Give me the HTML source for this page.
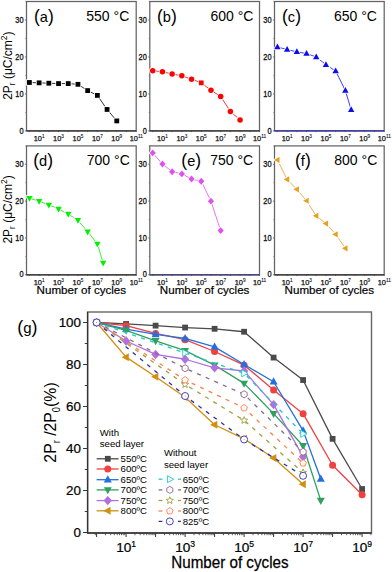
<!DOCTYPE html>
<html><head><meta charset="utf-8"><style>
html,body{margin:0;padding:0;background:#fff;width:392px;height:572px;overflow:hidden;}
svg{display:block;font-family:"Liberation Sans", sans-serif;}
</style></head><body>
<svg width="392" height="572" viewBox="0 0 392 572" font-family="'Liberation Sans', sans-serif"><line x1="24.90" y1="130.90" x2="26.50" y2="130.90" stroke="#555" stroke-width="0.8"/><line x1="25.50" y1="112.41" x2="26.50" y2="112.41" stroke="#555" stroke-width="0.8"/><line x1="24.90" y1="93.93" x2="26.50" y2="93.93" stroke="#555" stroke-width="0.8"/><line x1="25.50" y1="75.44" x2="26.50" y2="75.44" stroke="#555" stroke-width="0.8"/><line x1="24.90" y1="56.96" x2="26.50" y2="56.96" stroke="#555" stroke-width="0.8"/><line x1="25.50" y1="38.47" x2="26.50" y2="38.47" stroke="#555" stroke-width="0.8"/><line x1="24.90" y1="19.99" x2="26.50" y2="19.99" stroke="#555" stroke-width="0.8"/><line x1="25.50" y1="1.50" x2="26.50" y2="1.50" stroke="#555" stroke-width="0.8"/><line x1="29.41" y1="130.90" x2="29.41" y2="132.10" stroke="#444" stroke-width="0.8"/><line x1="39.12" y1="130.90" x2="39.12" y2="132.10" stroke="#444" stroke-width="0.8"/><line x1="48.83" y1="130.90" x2="48.83" y2="132.10" stroke="#444" stroke-width="0.8"/><line x1="58.54" y1="130.90" x2="58.54" y2="132.10" stroke="#444" stroke-width="0.8"/><line x1="68.24" y1="130.90" x2="68.24" y2="132.10" stroke="#444" stroke-width="0.8"/><line x1="77.95" y1="130.90" x2="77.95" y2="132.10" stroke="#444" stroke-width="0.8"/><line x1="87.66" y1="130.90" x2="87.66" y2="132.10" stroke="#444" stroke-width="0.8"/><line x1="97.37" y1="130.90" x2="97.37" y2="132.10" stroke="#444" stroke-width="0.8"/><line x1="107.08" y1="130.90" x2="107.08" y2="132.10" stroke="#444" stroke-width="0.8"/><line x1="116.78" y1="130.90" x2="116.78" y2="132.10" stroke="#444" stroke-width="0.8"/><line x1="126.49" y1="130.90" x2="126.49" y2="132.10" stroke="#444" stroke-width="0.8"/><line x1="136.20" y1="130.90" x2="136.20" y2="132.10" stroke="#444" stroke-width="0.8"/>
<rect x="26.50" y="1.50" width="109.70" height="129.40" fill="none" stroke="#646464" stroke-width="1.25"/>
<line x1="26.50" y1="130.90" x2="136.20" y2="130.90" stroke="#333" stroke-width="1.3"/>
<text transform="translate(23.50,133.50) scale(0.86,1)" font-size="8.6" text-anchor="end" fill="#111" stroke="#111" stroke-width="0.3">0</text>
<text transform="translate(23.50,96.53) scale(0.86,1)" font-size="8.6" text-anchor="end" fill="#111" stroke="#111" stroke-width="0.3">10</text>
<text transform="translate(23.50,59.56) scale(0.86,1)" font-size="8.6" text-anchor="end" fill="#111" stroke="#111" stroke-width="0.3">20</text>
<text transform="translate(23.50,22.59) scale(0.86,1)" font-size="8.6" text-anchor="end" fill="#111" stroke="#111" stroke-width="0.3">30</text>
<text x="39.12" y="141.00" font-size="7.4" text-anchor="middle" fill="#111" stroke="#111" stroke-width="0.25">10<tspan font-size="4.7" dy="-2.9" stroke-width="0.1">1</tspan></text>
<text x="58.54" y="141.00" font-size="7.4" text-anchor="middle" fill="#111" stroke="#111" stroke-width="0.25">10<tspan font-size="4.7" dy="-2.9" stroke-width="0.1">3</tspan></text>
<text x="77.95" y="141.00" font-size="7.4" text-anchor="middle" fill="#111" stroke="#111" stroke-width="0.25">10<tspan font-size="4.7" dy="-2.9" stroke-width="0.1">5</tspan></text>
<text x="97.37" y="141.00" font-size="7.4" text-anchor="middle" fill="#111" stroke="#111" stroke-width="0.25">10<tspan font-size="4.7" dy="-2.9" stroke-width="0.1">7</tspan></text>
<text x="116.78" y="141.00" font-size="7.4" text-anchor="middle" fill="#111" stroke="#111" stroke-width="0.25">10<tspan font-size="4.7" dy="-2.9" stroke-width="0.1">9</tspan></text>
<text x="136.20" y="141.00" font-size="7.4" text-anchor="middle" fill="#111" stroke="#111" stroke-width="0.25">10<tspan font-size="4.7" dy="-2.9" stroke-width="0.1">11</tspan></text>
<text x="34.00" y="21.70" font-size="14.6" fill="#000"><tspan font-size="17.5">(</tspan>a<tspan font-size="17.5">)</tspan></text>
<text x="86.30" y="20.70" font-size="14.0" text-anchor="start" fill="#000">550 °C</text>
<polyline points="29.41,82.47 39.12,82.84 48.83,83.21 58.54,83.58 68.24,83.58 77.95,84.32 87.66,90.60 97.37,95.41 107.08,109.46 116.78,120.92" fill="none" stroke="#000000" stroke-width="0.8" stroke-linejoin="round"/>
<rect x="27.01" y="80.07" width="4.80" height="4.80" fill="#000000" stroke="#fff" stroke-width="1.6" paint-order="stroke"/>
<rect x="36.72" y="80.44" width="4.80" height="4.80" fill="#000000" stroke="#fff" stroke-width="1.6" paint-order="stroke"/>
<rect x="46.43" y="80.81" width="4.80" height="4.80" fill="#000000" stroke="#fff" stroke-width="1.6" paint-order="stroke"/>
<rect x="56.14" y="81.18" width="4.80" height="4.80" fill="#000000" stroke="#fff" stroke-width="1.6" paint-order="stroke"/>
<rect x="65.84" y="81.18" width="4.80" height="4.80" fill="#000000" stroke="#fff" stroke-width="1.6" paint-order="stroke"/>
<rect x="75.55" y="81.92" width="4.80" height="4.80" fill="#000000" stroke="#fff" stroke-width="1.6" paint-order="stroke"/>
<rect x="85.26" y="88.20" width="4.80" height="4.80" fill="#000000" stroke="#fff" stroke-width="1.6" paint-order="stroke"/>
<rect x="94.97" y="93.01" width="4.80" height="4.80" fill="#000000" stroke="#fff" stroke-width="1.6" paint-order="stroke"/>
<rect x="104.68" y="107.06" width="4.80" height="4.80" fill="#000000" stroke="#fff" stroke-width="1.6" paint-order="stroke"/>
<rect x="114.38" y="118.52" width="4.80" height="4.80" fill="#000000" stroke="#fff" stroke-width="1.6" paint-order="stroke"/>
<line x1="148.20" y1="130.90" x2="149.80" y2="130.90" stroke="#555" stroke-width="0.8"/><line x1="148.80" y1="112.41" x2="149.80" y2="112.41" stroke="#555" stroke-width="0.8"/><line x1="148.20" y1="93.93" x2="149.80" y2="93.93" stroke="#555" stroke-width="0.8"/><line x1="148.80" y1="75.44" x2="149.80" y2="75.44" stroke="#555" stroke-width="0.8"/><line x1="148.20" y1="56.96" x2="149.80" y2="56.96" stroke="#555" stroke-width="0.8"/><line x1="148.80" y1="38.47" x2="149.80" y2="38.47" stroke="#555" stroke-width="0.8"/><line x1="148.20" y1="19.99" x2="149.80" y2="19.99" stroke="#555" stroke-width="0.8"/><line x1="148.80" y1="1.50" x2="149.80" y2="1.50" stroke="#555" stroke-width="0.8"/><line x1="152.71" y1="130.90" x2="152.71" y2="132.10" stroke="#444" stroke-width="0.8"/><line x1="162.42" y1="130.90" x2="162.42" y2="132.10" stroke="#444" stroke-width="0.8"/><line x1="172.13" y1="130.90" x2="172.13" y2="132.10" stroke="#444" stroke-width="0.8"/><line x1="181.84" y1="130.90" x2="181.84" y2="132.10" stroke="#444" stroke-width="0.8"/><line x1="191.54" y1="130.90" x2="191.54" y2="132.10" stroke="#444" stroke-width="0.8"/><line x1="201.25" y1="130.90" x2="201.25" y2="132.10" stroke="#444" stroke-width="0.8"/><line x1="210.96" y1="130.90" x2="210.96" y2="132.10" stroke="#444" stroke-width="0.8"/><line x1="220.67" y1="130.90" x2="220.67" y2="132.10" stroke="#444" stroke-width="0.8"/><line x1="230.38" y1="130.90" x2="230.38" y2="132.10" stroke="#444" stroke-width="0.8"/><line x1="240.08" y1="130.90" x2="240.08" y2="132.10" stroke="#444" stroke-width="0.8"/><line x1="249.79" y1="130.90" x2="249.79" y2="132.10" stroke="#444" stroke-width="0.8"/><line x1="259.50" y1="130.90" x2="259.50" y2="132.10" stroke="#444" stroke-width="0.8"/>
<rect x="149.80" y="1.50" width="109.70" height="129.40" fill="none" stroke="#646464" stroke-width="1.25"/>
<line x1="149.80" y1="130.90" x2="259.50" y2="130.90" stroke="#333" stroke-width="1.3"/>
<text transform="translate(146.80,133.50) scale(0.86,1)" font-size="8.6" text-anchor="end" fill="#111" stroke="#111" stroke-width="0.3">0</text>
<text transform="translate(146.80,96.53) scale(0.86,1)" font-size="8.6" text-anchor="end" fill="#111" stroke="#111" stroke-width="0.3">10</text>
<text transform="translate(146.80,59.56) scale(0.86,1)" font-size="8.6" text-anchor="end" fill="#111" stroke="#111" stroke-width="0.3">20</text>
<text transform="translate(146.80,22.59) scale(0.86,1)" font-size="8.6" text-anchor="end" fill="#111" stroke="#111" stroke-width="0.3">30</text>
<text x="162.42" y="141.00" font-size="7.4" text-anchor="middle" fill="#111" stroke="#111" stroke-width="0.25">10<tspan font-size="4.7" dy="-2.9" stroke-width="0.1">1</tspan></text>
<text x="181.84" y="141.00" font-size="7.4" text-anchor="middle" fill="#111" stroke="#111" stroke-width="0.25">10<tspan font-size="4.7" dy="-2.9" stroke-width="0.1">3</tspan></text>
<text x="201.25" y="141.00" font-size="7.4" text-anchor="middle" fill="#111" stroke="#111" stroke-width="0.25">10<tspan font-size="4.7" dy="-2.9" stroke-width="0.1">5</tspan></text>
<text x="220.67" y="141.00" font-size="7.4" text-anchor="middle" fill="#111" stroke="#111" stroke-width="0.25">10<tspan font-size="4.7" dy="-2.9" stroke-width="0.1">7</tspan></text>
<text x="240.08" y="141.00" font-size="7.4" text-anchor="middle" fill="#111" stroke="#111" stroke-width="0.25">10<tspan font-size="4.7" dy="-2.9" stroke-width="0.1">9</tspan></text>
<text x="259.50" y="141.00" font-size="7.4" text-anchor="middle" fill="#111" stroke="#111" stroke-width="0.25">10<tspan font-size="4.7" dy="-2.9" stroke-width="0.1">11</tspan></text>
<text x="157.00" y="21.70" font-size="14.6" fill="#000"><tspan font-size="17.5">(</tspan>b<tspan font-size="17.5">)</tspan></text>
<text x="210.40" y="20.70" font-size="14.0" text-anchor="start" fill="#000">600 °C</text>
<polyline points="152.71,70.64 162.42,71.75 172.13,73.96 181.84,75.81 191.54,79.14 201.25,82.84 210.96,90.23 220.67,96.52 230.38,111.49 240.08,119.92" fill="none" stroke="#ff0000" stroke-width="0.8" stroke-linejoin="round"/>
<circle cx="152.71" cy="70.64" r="2.75" fill="#ff0000" stroke="#fff" stroke-width="1.6" paint-order="stroke"/>
<circle cx="162.42" cy="71.75" r="2.75" fill="#ff0000" stroke="#fff" stroke-width="1.6" paint-order="stroke"/>
<circle cx="172.13" cy="73.96" r="2.75" fill="#ff0000" stroke="#fff" stroke-width="1.6" paint-order="stroke"/>
<circle cx="181.84" cy="75.81" r="2.75" fill="#ff0000" stroke="#fff" stroke-width="1.6" paint-order="stroke"/>
<circle cx="191.54" cy="79.14" r="2.75" fill="#ff0000" stroke="#fff" stroke-width="1.6" paint-order="stroke"/>
<rect x="198.85" y="80.44" width="4.80" height="4.80" fill="#ff0000" stroke="#fff" stroke-width="1.6" paint-order="stroke"/>
<circle cx="210.96" cy="90.23" r="2.75" fill="#ff0000" stroke="#fff" stroke-width="1.6" paint-order="stroke"/>
<circle cx="220.67" cy="96.52" r="2.75" fill="#ff0000" stroke="#fff" stroke-width="1.6" paint-order="stroke"/>
<circle cx="230.38" cy="111.49" r="2.75" fill="#ff0000" stroke="#fff" stroke-width="1.6" paint-order="stroke"/>
<circle cx="240.08" cy="119.92" r="2.75" fill="#ff0000" stroke="#fff" stroke-width="1.6" paint-order="stroke"/>
<line x1="272.90" y1="130.90" x2="274.50" y2="130.90" stroke="#555" stroke-width="0.8"/><line x1="273.50" y1="112.41" x2="274.50" y2="112.41" stroke="#555" stroke-width="0.8"/><line x1="272.90" y1="93.93" x2="274.50" y2="93.93" stroke="#555" stroke-width="0.8"/><line x1="273.50" y1="75.44" x2="274.50" y2="75.44" stroke="#555" stroke-width="0.8"/><line x1="272.90" y1="56.96" x2="274.50" y2="56.96" stroke="#555" stroke-width="0.8"/><line x1="273.50" y1="38.47" x2="274.50" y2="38.47" stroke="#555" stroke-width="0.8"/><line x1="272.90" y1="19.99" x2="274.50" y2="19.99" stroke="#555" stroke-width="0.8"/><line x1="273.50" y1="1.50" x2="274.50" y2="1.50" stroke="#555" stroke-width="0.8"/><line x1="277.41" y1="130.90" x2="277.41" y2="132.10" stroke="#444" stroke-width="0.8"/><line x1="287.12" y1="130.90" x2="287.12" y2="132.10" stroke="#444" stroke-width="0.8"/><line x1="296.83" y1="130.90" x2="296.83" y2="132.10" stroke="#444" stroke-width="0.8"/><line x1="306.54" y1="130.90" x2="306.54" y2="132.10" stroke="#444" stroke-width="0.8"/><line x1="316.24" y1="130.90" x2="316.24" y2="132.10" stroke="#444" stroke-width="0.8"/><line x1="325.95" y1="130.90" x2="325.95" y2="132.10" stroke="#444" stroke-width="0.8"/><line x1="335.66" y1="130.90" x2="335.66" y2="132.10" stroke="#444" stroke-width="0.8"/><line x1="345.37" y1="130.90" x2="345.37" y2="132.10" stroke="#444" stroke-width="0.8"/><line x1="355.08" y1="130.90" x2="355.08" y2="132.10" stroke="#444" stroke-width="0.8"/><line x1="364.78" y1="130.90" x2="364.78" y2="132.10" stroke="#444" stroke-width="0.8"/><line x1="374.49" y1="130.90" x2="374.49" y2="132.10" stroke="#444" stroke-width="0.8"/><line x1="384.20" y1="130.90" x2="384.20" y2="132.10" stroke="#444" stroke-width="0.8"/>
<rect x="274.50" y="1.50" width="109.70" height="129.40" fill="none" stroke="#646464" stroke-width="1.25"/>
<line x1="274.50" y1="130.90" x2="384.20" y2="130.90" stroke="#2828a8" stroke-width="1.3"/>
<text transform="translate(271.50,133.50) scale(0.86,1)" font-size="8.6" text-anchor="end" fill="#111" stroke="#111" stroke-width="0.3">0</text>
<text transform="translate(271.50,96.53) scale(0.86,1)" font-size="8.6" text-anchor="end" fill="#111" stroke="#111" stroke-width="0.3">10</text>
<text transform="translate(271.50,59.56) scale(0.86,1)" font-size="8.6" text-anchor="end" fill="#111" stroke="#111" stroke-width="0.3">20</text>
<text transform="translate(271.50,22.59) scale(0.86,1)" font-size="8.6" text-anchor="end" fill="#111" stroke="#111" stroke-width="0.3">30</text>
<text x="287.12" y="141.00" font-size="7.4" text-anchor="middle" fill="#111" stroke="#111" stroke-width="0.25">10<tspan font-size="4.7" dy="-2.9" stroke-width="0.1">1</tspan></text>
<text x="306.54" y="141.00" font-size="7.4" text-anchor="middle" fill="#111" stroke="#111" stroke-width="0.25">10<tspan font-size="4.7" dy="-2.9" stroke-width="0.1">3</tspan></text>
<text x="325.95" y="141.00" font-size="7.4" text-anchor="middle" fill="#111" stroke="#111" stroke-width="0.25">10<tspan font-size="4.7" dy="-2.9" stroke-width="0.1">5</tspan></text>
<text x="345.37" y="141.00" font-size="7.4" text-anchor="middle" fill="#111" stroke="#111" stroke-width="0.25">10<tspan font-size="4.7" dy="-2.9" stroke-width="0.1">7</tspan></text>
<text x="364.78" y="141.00" font-size="7.4" text-anchor="middle" fill="#111" stroke="#111" stroke-width="0.25">10<tspan font-size="4.7" dy="-2.9" stroke-width="0.1">9</tspan></text>
<text x="384.20" y="141.00" font-size="7.4" text-anchor="middle" fill="#111" stroke="#111" stroke-width="0.25">10<tspan font-size="4.7" dy="-2.9" stroke-width="0.1">11</tspan></text>
<text x="282.00" y="21.70" font-size="14.6" fill="#000"><tspan font-size="17.5">(</tspan>c<tspan font-size="17.5">)</tspan></text>
<text x="334.00" y="20.70" font-size="14.0" text-anchor="start" fill="#000">650 °C</text>
<polyline points="277.41,46.97 287.12,49.56 296.83,51.78 306.54,53.63 316.24,56.96 325.95,64.72 335.66,71.01 345.37,90.60 351.19,109.83" fill="none" stroke="#0c0cf0" stroke-width="0.8" stroke-linejoin="round"/>
<polygon points="277.41,43.40 280.61,49.16 274.21,49.16" fill="#0c0cf0" stroke="#fff" stroke-width="1.6" paint-order="stroke"/>
<polygon points="287.12,45.99 290.32,51.75 283.92,51.75" fill="#0c0cf0" stroke="#fff" stroke-width="1.6" paint-order="stroke"/>
<polygon points="296.83,48.21 300.03,53.97 293.63,53.97" fill="#0c0cf0" stroke="#fff" stroke-width="1.6" paint-order="stroke"/>
<polygon points="306.54,50.06 309.74,55.82 303.34,55.82" fill="#0c0cf0" stroke="#fff" stroke-width="1.6" paint-order="stroke"/>
<polygon points="316.24,53.39 319.44,59.15 313.04,59.15" fill="#0c0cf0" stroke="#fff" stroke-width="1.6" paint-order="stroke"/>
<polygon points="325.95,61.15 329.15,66.91 322.75,66.91" fill="#0c0cf0" stroke="#fff" stroke-width="1.6" paint-order="stroke"/>
<polygon points="335.66,67.44 338.86,73.20 332.46,73.20" fill="#0c0cf0" stroke="#fff" stroke-width="1.6" paint-order="stroke"/>
<polygon points="345.37,87.03 348.57,92.79 342.17,92.79" fill="#0c0cf0" stroke="#fff" stroke-width="1.6" paint-order="stroke"/>
<polygon points="351.19,106.26 354.39,112.02 347.99,112.02" fill="#0c0cf0" stroke="#fff" stroke-width="1.6" paint-order="stroke"/>
<line x1="24.90" y1="274.80" x2="26.50" y2="274.80" stroke="#555" stroke-width="0.8"/><line x1="25.50" y1="256.39" x2="26.50" y2="256.39" stroke="#555" stroke-width="0.8"/><line x1="24.90" y1="237.97" x2="26.50" y2="237.97" stroke="#555" stroke-width="0.8"/><line x1="25.50" y1="219.56" x2="26.50" y2="219.56" stroke="#555" stroke-width="0.8"/><line x1="24.90" y1="201.14" x2="26.50" y2="201.14" stroke="#555" stroke-width="0.8"/><line x1="25.50" y1="182.73" x2="26.50" y2="182.73" stroke="#555" stroke-width="0.8"/><line x1="24.90" y1="164.31" x2="26.50" y2="164.31" stroke="#555" stroke-width="0.8"/><line x1="25.50" y1="145.90" x2="26.50" y2="145.90" stroke="#555" stroke-width="0.8"/><line x1="29.41" y1="274.80" x2="29.41" y2="276.00" stroke="#444" stroke-width="0.8"/><line x1="39.12" y1="274.80" x2="39.12" y2="276.00" stroke="#444" stroke-width="0.8"/><line x1="48.83" y1="274.80" x2="48.83" y2="276.00" stroke="#444" stroke-width="0.8"/><line x1="58.54" y1="274.80" x2="58.54" y2="276.00" stroke="#444" stroke-width="0.8"/><line x1="68.24" y1="274.80" x2="68.24" y2="276.00" stroke="#444" stroke-width="0.8"/><line x1="77.95" y1="274.80" x2="77.95" y2="276.00" stroke="#444" stroke-width="0.8"/><line x1="87.66" y1="274.80" x2="87.66" y2="276.00" stroke="#444" stroke-width="0.8"/><line x1="97.37" y1="274.80" x2="97.37" y2="276.00" stroke="#444" stroke-width="0.8"/><line x1="107.08" y1="274.80" x2="107.08" y2="276.00" stroke="#444" stroke-width="0.8"/><line x1="116.78" y1="274.80" x2="116.78" y2="276.00" stroke="#444" stroke-width="0.8"/><line x1="126.49" y1="274.80" x2="126.49" y2="276.00" stroke="#444" stroke-width="0.8"/><line x1="136.20" y1="274.80" x2="136.20" y2="276.00" stroke="#444" stroke-width="0.8"/>
<rect x="26.50" y="145.90" width="109.70" height="128.90" fill="none" stroke="#646464" stroke-width="1.25"/>
<line x1="26.50" y1="274.80" x2="136.20" y2="274.80" stroke="#333" stroke-width="1.3"/>
<text transform="translate(23.50,277.40) scale(0.86,1)" font-size="8.6" text-anchor="end" fill="#111" stroke="#111" stroke-width="0.3">0</text>
<text transform="translate(23.50,240.57) scale(0.86,1)" font-size="8.6" text-anchor="end" fill="#111" stroke="#111" stroke-width="0.3">10</text>
<text transform="translate(23.50,203.74) scale(0.86,1)" font-size="8.6" text-anchor="end" fill="#111" stroke="#111" stroke-width="0.3">20</text>
<text transform="translate(23.50,166.91) scale(0.86,1)" font-size="8.6" text-anchor="end" fill="#111" stroke="#111" stroke-width="0.3">30</text>
<text x="39.12" y="284.90" font-size="7.4" text-anchor="middle" fill="#111" stroke="#111" stroke-width="0.25">10<tspan font-size="4.7" dy="-2.9" stroke-width="0.1">1</tspan></text>
<text x="58.54" y="284.90" font-size="7.4" text-anchor="middle" fill="#111" stroke="#111" stroke-width="0.25">10<tspan font-size="4.7" dy="-2.9" stroke-width="0.1">3</tspan></text>
<text x="77.95" y="284.90" font-size="7.4" text-anchor="middle" fill="#111" stroke="#111" stroke-width="0.25">10<tspan font-size="4.7" dy="-2.9" stroke-width="0.1">5</tspan></text>
<text x="97.37" y="284.90" font-size="7.4" text-anchor="middle" fill="#111" stroke="#111" stroke-width="0.25">10<tspan font-size="4.7" dy="-2.9" stroke-width="0.1">7</tspan></text>
<text x="116.78" y="284.90" font-size="7.4" text-anchor="middle" fill="#111" stroke="#111" stroke-width="0.25">10<tspan font-size="4.7" dy="-2.9" stroke-width="0.1">9</tspan></text>
<text x="136.20" y="284.90" font-size="7.4" text-anchor="middle" fill="#111" stroke="#111" stroke-width="0.25">10<tspan font-size="4.7" dy="-2.9" stroke-width="0.1">11</tspan></text>
<text x="33.20" y="166.10" font-size="14.6" fill="#000"><tspan font-size="17.5">(</tspan>d<tspan font-size="17.5">)</tspan></text>
<text x="86.80" y="165.10" font-size="14.0" text-anchor="start" fill="#000">700 °C</text>
<polyline points="29.41,198.20 39.12,201.14 48.83,204.83 58.54,208.88 68.24,214.03 77.95,220.29 87.66,231.71 97.37,243.86 103.19,263.01" fill="none" stroke="#00f000" stroke-width="0.8" stroke-linejoin="round"/>
<polygon points="29.41,201.77 32.61,196.01 26.21,196.01" fill="#00f000" stroke="#fff" stroke-width="1.6" paint-order="stroke"/>
<polygon points="39.12,204.71 42.32,198.95 35.92,198.95" fill="#00f000" stroke="#fff" stroke-width="1.6" paint-order="stroke"/>
<polygon points="48.83,208.40 52.03,202.64 45.63,202.64" fill="#00f000" stroke="#fff" stroke-width="1.6" paint-order="stroke"/>
<polygon points="58.54,212.45 61.74,206.69 55.34,206.69" fill="#00f000" stroke="#fff" stroke-width="1.6" paint-order="stroke"/>
<polygon points="68.24,217.60 71.44,211.84 65.04,211.84" fill="#00f000" stroke="#fff" stroke-width="1.6" paint-order="stroke"/>
<polygon points="77.95,223.86 81.15,218.10 74.75,218.10" fill="#00f000" stroke="#fff" stroke-width="1.6" paint-order="stroke"/>
<polygon points="87.66,235.28 90.86,229.52 84.46,229.52" fill="#00f000" stroke="#fff" stroke-width="1.6" paint-order="stroke"/>
<polygon points="97.37,247.44 100.57,241.68 94.17,241.68" fill="#00f000" stroke="#fff" stroke-width="1.6" paint-order="stroke"/>
<polygon points="103.19,266.59 106.39,260.83 99.99,260.83" fill="#00f000" stroke="#fff" stroke-width="1.6" paint-order="stroke"/>
<line x1="148.20" y1="274.80" x2="149.80" y2="274.80" stroke="#555" stroke-width="0.8"/><line x1="148.80" y1="256.39" x2="149.80" y2="256.39" stroke="#555" stroke-width="0.8"/><line x1="148.20" y1="237.97" x2="149.80" y2="237.97" stroke="#555" stroke-width="0.8"/><line x1="148.80" y1="219.56" x2="149.80" y2="219.56" stroke="#555" stroke-width="0.8"/><line x1="148.20" y1="201.14" x2="149.80" y2="201.14" stroke="#555" stroke-width="0.8"/><line x1="148.80" y1="182.73" x2="149.80" y2="182.73" stroke="#555" stroke-width="0.8"/><line x1="148.20" y1="164.31" x2="149.80" y2="164.31" stroke="#555" stroke-width="0.8"/><line x1="148.80" y1="145.90" x2="149.80" y2="145.90" stroke="#555" stroke-width="0.8"/><line x1="152.71" y1="274.80" x2="152.71" y2="276.00" stroke="#444" stroke-width="0.8"/><line x1="162.42" y1="274.80" x2="162.42" y2="276.00" stroke="#444" stroke-width="0.8"/><line x1="172.13" y1="274.80" x2="172.13" y2="276.00" stroke="#444" stroke-width="0.8"/><line x1="181.84" y1="274.80" x2="181.84" y2="276.00" stroke="#444" stroke-width="0.8"/><line x1="191.54" y1="274.80" x2="191.54" y2="276.00" stroke="#444" stroke-width="0.8"/><line x1="201.25" y1="274.80" x2="201.25" y2="276.00" stroke="#444" stroke-width="0.8"/><line x1="210.96" y1="274.80" x2="210.96" y2="276.00" stroke="#444" stroke-width="0.8"/><line x1="220.67" y1="274.80" x2="220.67" y2="276.00" stroke="#444" stroke-width="0.8"/><line x1="230.38" y1="274.80" x2="230.38" y2="276.00" stroke="#444" stroke-width="0.8"/><line x1="240.08" y1="274.80" x2="240.08" y2="276.00" stroke="#444" stroke-width="0.8"/><line x1="249.79" y1="274.80" x2="249.79" y2="276.00" stroke="#444" stroke-width="0.8"/><line x1="259.50" y1="274.80" x2="259.50" y2="276.00" stroke="#444" stroke-width="0.8"/>
<rect x="149.80" y="145.90" width="109.70" height="128.90" fill="none" stroke="#646464" stroke-width="1.25"/>
<line x1="149.80" y1="274.80" x2="259.50" y2="274.80" stroke="#383878" stroke-width="1.3"/>
<text transform="translate(146.80,277.40) scale(0.86,1)" font-size="8.6" text-anchor="end" fill="#111" stroke="#111" stroke-width="0.3">0</text>
<text transform="translate(146.80,240.57) scale(0.86,1)" font-size="8.6" text-anchor="end" fill="#111" stroke="#111" stroke-width="0.3">10</text>
<text transform="translate(146.80,203.74) scale(0.86,1)" font-size="8.6" text-anchor="end" fill="#111" stroke="#111" stroke-width="0.3">20</text>
<text transform="translate(146.80,166.91) scale(0.86,1)" font-size="8.6" text-anchor="end" fill="#111" stroke="#111" stroke-width="0.3">30</text>
<text x="162.42" y="284.90" font-size="7.4" text-anchor="middle" fill="#111" stroke="#111" stroke-width="0.25">10<tspan font-size="4.7" dy="-2.9" stroke-width="0.1">1</tspan></text>
<text x="181.84" y="284.90" font-size="7.4" text-anchor="middle" fill="#111" stroke="#111" stroke-width="0.25">10<tspan font-size="4.7" dy="-2.9" stroke-width="0.1">3</tspan></text>
<text x="201.25" y="284.90" font-size="7.4" text-anchor="middle" fill="#111" stroke="#111" stroke-width="0.25">10<tspan font-size="4.7" dy="-2.9" stroke-width="0.1">5</tspan></text>
<text x="220.67" y="284.90" font-size="7.4" text-anchor="middle" fill="#111" stroke="#111" stroke-width="0.25">10<tspan font-size="4.7" dy="-2.9" stroke-width="0.1">7</tspan></text>
<text x="240.08" y="284.90" font-size="7.4" text-anchor="middle" fill="#111" stroke="#111" stroke-width="0.25">10<tspan font-size="4.7" dy="-2.9" stroke-width="0.1">9</tspan></text>
<text x="259.50" y="284.90" font-size="7.4" text-anchor="middle" fill="#111" stroke="#111" stroke-width="0.25">10<tspan font-size="4.7" dy="-2.9" stroke-width="0.1">11</tspan></text>
<text x="181.30" y="166.10" font-size="14.6" fill="#000"><tspan font-size="17.5">(</tspan>e<tspan font-size="17.5">)</tspan></text>
<text x="210.20" y="165.10" font-size="14.0" text-anchor="start" fill="#000">750 °C</text>
<polyline points="152.71,152.90 162.42,163.95 172.13,171.68 181.84,173.89 191.54,179.05 201.25,181.26 210.96,201.14 220.67,230.61" fill="none" stroke="#e050f0" stroke-width="0.8" stroke-linejoin="round"/>
<polygon points="152.71,149.43 155.79,152.90 152.71,156.37 149.63,152.90" fill="#e050f0" stroke="#fff" stroke-width="1.6" paint-order="stroke"/>
<polygon points="162.42,160.47 165.50,163.95 162.42,167.42 159.34,163.95" fill="#e050f0" stroke="#fff" stroke-width="1.6" paint-order="stroke"/>
<polygon points="172.13,168.21 175.21,171.68 172.13,175.15 169.05,171.68" fill="#e050f0" stroke="#fff" stroke-width="1.6" paint-order="stroke"/>
<polygon points="181.84,170.42 184.92,173.89 181.84,177.36 178.76,173.89" fill="#e050f0" stroke="#fff" stroke-width="1.6" paint-order="stroke"/>
<polygon points="191.54,175.57 194.62,179.05 191.54,182.52 188.46,179.05" fill="#e050f0" stroke="#fff" stroke-width="1.6" paint-order="stroke"/>
<polygon points="201.25,177.78 204.33,181.26 201.25,184.73 198.17,181.26" fill="#e050f0" stroke="#fff" stroke-width="1.6" paint-order="stroke"/>
<polygon points="210.96,197.67 214.04,201.14 210.96,204.61 207.88,201.14" fill="#e050f0" stroke="#fff" stroke-width="1.6" paint-order="stroke"/>
<polygon points="220.67,227.13 223.75,230.61 220.67,234.08 217.59,230.61" fill="#e050f0" stroke="#fff" stroke-width="1.6" paint-order="stroke"/>
<line x1="272.90" y1="274.80" x2="274.50" y2="274.80" stroke="#555" stroke-width="0.8"/><line x1="273.50" y1="256.39" x2="274.50" y2="256.39" stroke="#555" stroke-width="0.8"/><line x1="272.90" y1="237.97" x2="274.50" y2="237.97" stroke="#555" stroke-width="0.8"/><line x1="273.50" y1="219.56" x2="274.50" y2="219.56" stroke="#555" stroke-width="0.8"/><line x1="272.90" y1="201.14" x2="274.50" y2="201.14" stroke="#555" stroke-width="0.8"/><line x1="273.50" y1="182.73" x2="274.50" y2="182.73" stroke="#555" stroke-width="0.8"/><line x1="272.90" y1="164.31" x2="274.50" y2="164.31" stroke="#555" stroke-width="0.8"/><line x1="273.50" y1="145.90" x2="274.50" y2="145.90" stroke="#555" stroke-width="0.8"/><line x1="277.41" y1="274.80" x2="277.41" y2="276.00" stroke="#444" stroke-width="0.8"/><line x1="287.12" y1="274.80" x2="287.12" y2="276.00" stroke="#444" stroke-width="0.8"/><line x1="296.83" y1="274.80" x2="296.83" y2="276.00" stroke="#444" stroke-width="0.8"/><line x1="306.54" y1="274.80" x2="306.54" y2="276.00" stroke="#444" stroke-width="0.8"/><line x1="316.24" y1="274.80" x2="316.24" y2="276.00" stroke="#444" stroke-width="0.8"/><line x1="325.95" y1="274.80" x2="325.95" y2="276.00" stroke="#444" stroke-width="0.8"/><line x1="335.66" y1="274.80" x2="335.66" y2="276.00" stroke="#444" stroke-width="0.8"/><line x1="345.37" y1="274.80" x2="345.37" y2="276.00" stroke="#444" stroke-width="0.8"/><line x1="355.08" y1="274.80" x2="355.08" y2="276.00" stroke="#444" stroke-width="0.8"/><line x1="364.78" y1="274.80" x2="364.78" y2="276.00" stroke="#444" stroke-width="0.8"/><line x1="374.49" y1="274.80" x2="374.49" y2="276.00" stroke="#444" stroke-width="0.8"/><line x1="384.20" y1="274.80" x2="384.20" y2="276.00" stroke="#444" stroke-width="0.8"/>
<rect x="274.50" y="145.90" width="109.70" height="128.90" fill="none" stroke="#646464" stroke-width="1.25"/>
<line x1="274.50" y1="274.80" x2="384.20" y2="274.80" stroke="#333" stroke-width="1.3"/>
<text transform="translate(271.50,277.40) scale(0.86,1)" font-size="8.6" text-anchor="end" fill="#111" stroke="#111" stroke-width="0.3">0</text>
<text transform="translate(271.50,240.57) scale(0.86,1)" font-size="8.6" text-anchor="end" fill="#111" stroke="#111" stroke-width="0.3">10</text>
<text transform="translate(271.50,203.74) scale(0.86,1)" font-size="8.6" text-anchor="end" fill="#111" stroke="#111" stroke-width="0.3">20</text>
<text transform="translate(271.50,166.91) scale(0.86,1)" font-size="8.6" text-anchor="end" fill="#111" stroke="#111" stroke-width="0.3">30</text>
<text x="287.12" y="284.90" font-size="7.4" text-anchor="middle" fill="#111" stroke="#111" stroke-width="0.25">10<tspan font-size="4.7" dy="-2.9" stroke-width="0.1">1</tspan></text>
<text x="306.54" y="284.90" font-size="7.4" text-anchor="middle" fill="#111" stroke="#111" stroke-width="0.25">10<tspan font-size="4.7" dy="-2.9" stroke-width="0.1">3</tspan></text>
<text x="325.95" y="284.90" font-size="7.4" text-anchor="middle" fill="#111" stroke="#111" stroke-width="0.25">10<tspan font-size="4.7" dy="-2.9" stroke-width="0.1">5</tspan></text>
<text x="345.37" y="284.90" font-size="7.4" text-anchor="middle" fill="#111" stroke="#111" stroke-width="0.25">10<tspan font-size="4.7" dy="-2.9" stroke-width="0.1">7</tspan></text>
<text x="364.78" y="284.90" font-size="7.4" text-anchor="middle" fill="#111" stroke="#111" stroke-width="0.25">10<tspan font-size="4.7" dy="-2.9" stroke-width="0.1">9</tspan></text>
<text x="384.20" y="284.90" font-size="7.4" text-anchor="middle" fill="#111" stroke="#111" stroke-width="0.25">10<tspan font-size="4.7" dy="-2.9" stroke-width="0.1">11</tspan></text>
<text x="295.00" y="166.10" font-size="14.6" fill="#000"><tspan font-size="17.5">(</tspan>f<tspan font-size="17.5">)</tspan></text>
<text x="334.30" y="165.10" font-size="14.0" text-anchor="start" fill="#000">800 °C</text>
<polyline points="277.41,159.89 287.12,179.41 296.83,189.36 306.54,200.77 316.24,215.87 325.95,223.61 335.66,234.29 345.37,248.28" fill="none" stroke="#e6a020" stroke-width="0.8" stroke-linejoin="round"/>
<polygon points="273.95,159.89 279.53,156.79 279.53,162.99" fill="#e6a020" stroke="#fff" stroke-width="1.6" paint-order="stroke"/>
<polygon points="283.66,179.41 289.24,176.31 289.24,182.51" fill="#e6a020" stroke="#fff" stroke-width="1.6" paint-order="stroke"/>
<polygon points="293.37,189.36 298.95,186.26 298.95,192.46" fill="#e6a020" stroke="#fff" stroke-width="1.6" paint-order="stroke"/>
<polygon points="303.08,200.77 308.66,197.67 308.66,203.87" fill="#e6a020" stroke="#fff" stroke-width="1.6" paint-order="stroke"/>
<polygon points="312.78,215.87 318.36,212.77 318.36,218.97" fill="#e6a020" stroke="#fff" stroke-width="1.6" paint-order="stroke"/>
<polygon points="322.49,223.61 328.07,220.51 328.07,226.71" fill="#e6a020" stroke="#fff" stroke-width="1.6" paint-order="stroke"/>
<polygon points="332.20,234.29 337.78,231.19 337.78,237.39" fill="#e6a020" stroke="#fff" stroke-width="1.6" paint-order="stroke"/>
<polygon points="341.91,248.28 347.49,245.18 347.49,251.38" fill="#e6a020" stroke="#fff" stroke-width="1.6" paint-order="stroke"/>
<text transform="translate(11.9,65.60) rotate(-90)" font-size="12" text-anchor="middle" fill="#000">2P<tspan font-size="8.2" dy="2.6">r</tspan><tspan dy="-2.6"> (μC/cm</tspan><tspan font-size="8.6" dy="-5.2">2</tspan><tspan dy="5.2">)</tspan></text>
<text transform="translate(11.9,209.40) rotate(-90)" font-size="12" text-anchor="middle" fill="#000">2P<tspan font-size="8.2" dy="2.6">r</tspan><tspan dy="-2.6"> (μC/cm</tspan><tspan font-size="8.6" dy="-5.2">2</tspan><tspan dy="5.2">)</tspan></text>
<text x="81.35" y="294.40" font-size="11.6" text-anchor="middle" fill="#000" stroke="#000" stroke-width="0.2">Number of cycles</text>
<text x="204.65" y="294.40" font-size="11.6" text-anchor="middle" fill="#000" stroke="#000" stroke-width="0.2">Number of cycles</text>
<text x="329.35" y="294.40" font-size="11.6" text-anchor="middle" fill="#000" stroke="#000" stroke-width="0.2">Number of cycles</text>
<line x1="83.10" y1="532.50" x2="87.60" y2="532.50" stroke="#333" stroke-width="1"/><line x1="84.80" y1="511.50" x2="87.60" y2="511.50" stroke="#333" stroke-width="1"/><line x1="83.10" y1="490.50" x2="87.60" y2="490.50" stroke="#333" stroke-width="1"/><line x1="84.80" y1="469.50" x2="87.60" y2="469.50" stroke="#333" stroke-width="1"/><line x1="83.10" y1="448.50" x2="87.60" y2="448.50" stroke="#333" stroke-width="1"/><line x1="84.80" y1="427.50" x2="87.60" y2="427.50" stroke="#333" stroke-width="1"/><line x1="83.10" y1="406.50" x2="87.60" y2="406.50" stroke="#333" stroke-width="1"/><line x1="84.80" y1="385.50" x2="87.60" y2="385.50" stroke="#333" stroke-width="1"/><line x1="83.10" y1="364.50" x2="87.60" y2="364.50" stroke="#333" stroke-width="1"/><line x1="84.80" y1="343.50" x2="87.60" y2="343.50" stroke="#333" stroke-width="1"/><line x1="83.10" y1="322.50" x2="87.60" y2="322.50" stroke="#333" stroke-width="1"/><line x1="96.60" y1="533.00" x2="96.60" y2="537.00" stroke="#333" stroke-width="1"/><line x1="105.48" y1="533.00" x2="105.48" y2="535.20" stroke="#333" stroke-width="0.8"/><line x1="110.68" y1="533.00" x2="110.68" y2="535.20" stroke="#333" stroke-width="0.8"/><line x1="114.36" y1="533.00" x2="114.36" y2="535.20" stroke="#333" stroke-width="0.8"/><line x1="117.22" y1="533.00" x2="117.22" y2="535.20" stroke="#333" stroke-width="0.8"/><line x1="119.56" y1="533.00" x2="119.56" y2="535.20" stroke="#333" stroke-width="0.8"/><line x1="121.53" y1="533.00" x2="121.53" y2="535.20" stroke="#333" stroke-width="0.8"/><line x1="123.24" y1="533.00" x2="123.24" y2="535.20" stroke="#333" stroke-width="0.8"/><line x1="124.75" y1="533.00" x2="124.75" y2="535.20" stroke="#333" stroke-width="0.8"/><line x1="126.10" y1="533.00" x2="126.10" y2="537.00" stroke="#333" stroke-width="1"/><line x1="134.98" y1="533.00" x2="134.98" y2="535.20" stroke="#333" stroke-width="0.8"/><line x1="140.18" y1="533.00" x2="140.18" y2="535.20" stroke="#333" stroke-width="0.8"/><line x1="143.86" y1="533.00" x2="143.86" y2="535.20" stroke="#333" stroke-width="0.8"/><line x1="146.72" y1="533.00" x2="146.72" y2="535.20" stroke="#333" stroke-width="0.8"/><line x1="149.06" y1="533.00" x2="149.06" y2="535.20" stroke="#333" stroke-width="0.8"/><line x1="151.03" y1="533.00" x2="151.03" y2="535.20" stroke="#333" stroke-width="0.8"/><line x1="152.74" y1="533.00" x2="152.74" y2="535.20" stroke="#333" stroke-width="0.8"/><line x1="154.25" y1="533.00" x2="154.25" y2="535.20" stroke="#333" stroke-width="0.8"/><line x1="155.60" y1="533.00" x2="155.60" y2="537.00" stroke="#333" stroke-width="1"/><line x1="164.48" y1="533.00" x2="164.48" y2="535.20" stroke="#333" stroke-width="0.8"/><line x1="169.68" y1="533.00" x2="169.68" y2="535.20" stroke="#333" stroke-width="0.8"/><line x1="173.36" y1="533.00" x2="173.36" y2="535.20" stroke="#333" stroke-width="0.8"/><line x1="176.22" y1="533.00" x2="176.22" y2="535.20" stroke="#333" stroke-width="0.8"/><line x1="178.56" y1="533.00" x2="178.56" y2="535.20" stroke="#333" stroke-width="0.8"/><line x1="180.53" y1="533.00" x2="180.53" y2="535.20" stroke="#333" stroke-width="0.8"/><line x1="182.24" y1="533.00" x2="182.24" y2="535.20" stroke="#333" stroke-width="0.8"/><line x1="183.75" y1="533.00" x2="183.75" y2="535.20" stroke="#333" stroke-width="0.8"/><line x1="185.10" y1="533.00" x2="185.10" y2="537.00" stroke="#333" stroke-width="1"/><line x1="193.98" y1="533.00" x2="193.98" y2="535.20" stroke="#333" stroke-width="0.8"/><line x1="199.18" y1="533.00" x2="199.18" y2="535.20" stroke="#333" stroke-width="0.8"/><line x1="202.86" y1="533.00" x2="202.86" y2="535.20" stroke="#333" stroke-width="0.8"/><line x1="205.72" y1="533.00" x2="205.72" y2="535.20" stroke="#333" stroke-width="0.8"/><line x1="208.06" y1="533.00" x2="208.06" y2="535.20" stroke="#333" stroke-width="0.8"/><line x1="210.03" y1="533.00" x2="210.03" y2="535.20" stroke="#333" stroke-width="0.8"/><line x1="211.74" y1="533.00" x2="211.74" y2="535.20" stroke="#333" stroke-width="0.8"/><line x1="213.25" y1="533.00" x2="213.25" y2="535.20" stroke="#333" stroke-width="0.8"/><line x1="214.60" y1="533.00" x2="214.60" y2="537.00" stroke="#333" stroke-width="1"/><line x1="223.48" y1="533.00" x2="223.48" y2="535.20" stroke="#333" stroke-width="0.8"/><line x1="228.68" y1="533.00" x2="228.68" y2="535.20" stroke="#333" stroke-width="0.8"/><line x1="232.36" y1="533.00" x2="232.36" y2="535.20" stroke="#333" stroke-width="0.8"/><line x1="235.22" y1="533.00" x2="235.22" y2="535.20" stroke="#333" stroke-width="0.8"/><line x1="237.56" y1="533.00" x2="237.56" y2="535.20" stroke="#333" stroke-width="0.8"/><line x1="239.53" y1="533.00" x2="239.53" y2="535.20" stroke="#333" stroke-width="0.8"/><line x1="241.24" y1="533.00" x2="241.24" y2="535.20" stroke="#333" stroke-width="0.8"/><line x1="242.75" y1="533.00" x2="242.75" y2="535.20" stroke="#333" stroke-width="0.8"/><line x1="244.10" y1="533.00" x2="244.10" y2="537.00" stroke="#333" stroke-width="1"/><line x1="252.98" y1="533.00" x2="252.98" y2="535.20" stroke="#333" stroke-width="0.8"/><line x1="258.18" y1="533.00" x2="258.18" y2="535.20" stroke="#333" stroke-width="0.8"/><line x1="261.86" y1="533.00" x2="261.86" y2="535.20" stroke="#333" stroke-width="0.8"/><line x1="264.72" y1="533.00" x2="264.72" y2="535.20" stroke="#333" stroke-width="0.8"/><line x1="267.06" y1="533.00" x2="267.06" y2="535.20" stroke="#333" stroke-width="0.8"/><line x1="269.03" y1="533.00" x2="269.03" y2="535.20" stroke="#333" stroke-width="0.8"/><line x1="270.74" y1="533.00" x2="270.74" y2="535.20" stroke="#333" stroke-width="0.8"/><line x1="272.25" y1="533.00" x2="272.25" y2="535.20" stroke="#333" stroke-width="0.8"/><line x1="273.60" y1="533.00" x2="273.60" y2="537.00" stroke="#333" stroke-width="1"/><line x1="282.48" y1="533.00" x2="282.48" y2="535.20" stroke="#333" stroke-width="0.8"/><line x1="287.68" y1="533.00" x2="287.68" y2="535.20" stroke="#333" stroke-width="0.8"/><line x1="291.36" y1="533.00" x2="291.36" y2="535.20" stroke="#333" stroke-width="0.8"/><line x1="294.22" y1="533.00" x2="294.22" y2="535.20" stroke="#333" stroke-width="0.8"/><line x1="296.56" y1="533.00" x2="296.56" y2="535.20" stroke="#333" stroke-width="0.8"/><line x1="298.53" y1="533.00" x2="298.53" y2="535.20" stroke="#333" stroke-width="0.8"/><line x1="300.24" y1="533.00" x2="300.24" y2="535.20" stroke="#333" stroke-width="0.8"/><line x1="301.75" y1="533.00" x2="301.75" y2="535.20" stroke="#333" stroke-width="0.8"/><line x1="303.10" y1="533.00" x2="303.10" y2="537.00" stroke="#333" stroke-width="1"/><line x1="311.98" y1="533.00" x2="311.98" y2="535.20" stroke="#333" stroke-width="0.8"/><line x1="317.18" y1="533.00" x2="317.18" y2="535.20" stroke="#333" stroke-width="0.8"/><line x1="320.86" y1="533.00" x2="320.86" y2="535.20" stroke="#333" stroke-width="0.8"/><line x1="323.72" y1="533.00" x2="323.72" y2="535.20" stroke="#333" stroke-width="0.8"/><line x1="326.06" y1="533.00" x2="326.06" y2="535.20" stroke="#333" stroke-width="0.8"/><line x1="328.03" y1="533.00" x2="328.03" y2="535.20" stroke="#333" stroke-width="0.8"/><line x1="329.74" y1="533.00" x2="329.74" y2="535.20" stroke="#333" stroke-width="0.8"/><line x1="331.25" y1="533.00" x2="331.25" y2="535.20" stroke="#333" stroke-width="0.8"/><line x1="332.60" y1="533.00" x2="332.60" y2="537.00" stroke="#333" stroke-width="1"/><line x1="341.48" y1="533.00" x2="341.48" y2="535.20" stroke="#333" stroke-width="0.8"/><line x1="346.68" y1="533.00" x2="346.68" y2="535.20" stroke="#333" stroke-width="0.8"/><line x1="350.36" y1="533.00" x2="350.36" y2="535.20" stroke="#333" stroke-width="0.8"/><line x1="353.22" y1="533.00" x2="353.22" y2="535.20" stroke="#333" stroke-width="0.8"/><line x1="355.56" y1="533.00" x2="355.56" y2="535.20" stroke="#333" stroke-width="0.8"/><line x1="357.53" y1="533.00" x2="357.53" y2="535.20" stroke="#333" stroke-width="0.8"/><line x1="359.24" y1="533.00" x2="359.24" y2="535.20" stroke="#333" stroke-width="0.8"/><line x1="360.75" y1="533.00" x2="360.75" y2="535.20" stroke="#333" stroke-width="0.8"/><line x1="362.10" y1="533.00" x2="362.10" y2="537.00" stroke="#333" stroke-width="1"/><line x1="370.98" y1="533.00" x2="370.98" y2="535.20" stroke="#333" stroke-width="0.8"/><line x1="95.25" y1="533.00" x2="95.25" y2="535.20" stroke="#333" stroke-width="0.8"/>
<rect x="87.60" y="312.00" width="283.90" height="221.00" fill="none" stroke="#666" stroke-width="1.4"/>
<polyline points="87.60,312.00 87.60,533.00 371.50,533.00" fill="none" stroke="#333" stroke-width="1.3"/>
<text x="81.00" y="537.30" font-size="13.4" text-anchor="end" fill="#000" stroke="#000" stroke-width="0.2">0</text>
<text x="81.00" y="495.30" font-size="13.4" text-anchor="end" fill="#000" stroke="#000" stroke-width="0.2">20</text>
<text x="81.00" y="453.30" font-size="13.4" text-anchor="end" fill="#000" stroke="#000" stroke-width="0.2">40</text>
<text x="81.00" y="411.30" font-size="13.4" text-anchor="end" fill="#000" stroke="#000" stroke-width="0.2">60</text>
<text x="81.00" y="369.30" font-size="13.4" text-anchor="end" fill="#000" stroke="#000" stroke-width="0.2">80</text>
<text x="81.00" y="327.30" font-size="13.4" text-anchor="end" fill="#000" stroke="#000" stroke-width="0.2">100</text>
<text x="126.10" y="551.80" font-size="13.6" text-anchor="middle" fill="#000" stroke="#000" stroke-width="0.2">10<tspan font-size="8.6" dy="-5.2">1</tspan></text>
<text x="185.10" y="551.80" font-size="13.6" text-anchor="middle" fill="#000" stroke="#000" stroke-width="0.2">10<tspan font-size="8.6" dy="-5.2">3</tspan></text>
<text x="244.10" y="551.80" font-size="13.6" text-anchor="middle" fill="#000" stroke="#000" stroke-width="0.2">10<tspan font-size="8.6" dy="-5.2">5</tspan></text>
<text x="303.10" y="551.80" font-size="13.6" text-anchor="middle" fill="#000" stroke="#000" stroke-width="0.2">10<tspan font-size="8.6" dy="-5.2">7</tspan></text>
<text x="362.10" y="551.80" font-size="13.6" text-anchor="middle" fill="#000" stroke="#000" stroke-width="0.2">10<tspan font-size="8.6" dy="-5.2">9</tspan></text>
<text transform="translate(229.9,567.6) scale(0.95,1)" x="0" y="0" font-size="16" text-anchor="middle" fill="#000" stroke="#000" stroke-width="0.25">Number of cycles</text>
<text x="17.2" y="332.6" font-size="15" fill="#000"><tspan font-size="18">(</tspan>g<tspan font-size="18">)</tspan></text>
<text transform="translate(56.3,422.5) rotate(-90) scale(0.94,1)" font-size="16.8" text-anchor="middle" fill="#000">2P<tspan font-size="10" dy="4">r</tspan><tspan dy="-4"> /2P</tspan><tspan font-size="10" dy="4">0</tspan><tspan dy="-4">(%)</tspan></text>
<polyline points="96.60,322.50 126.10,323.97 155.60,325.65 185.10,327.54 214.60,328.80 244.10,331.74 273.60,357.57 303.10,380.04 332.60,438.84 362.10,489.03" fill="none" stroke="#4a4a4a" stroke-width="1.3" stroke-linejoin="round"/>
<rect x="93.70" y="319.60" width="5.80" height="5.80" fill="#4a4a4a"/>
<rect x="123.20" y="321.07" width="5.80" height="5.80" fill="#4a4a4a"/>
<rect x="152.70" y="322.75" width="5.80" height="5.80" fill="#4a4a4a"/>
<rect x="182.20" y="324.64" width="5.80" height="5.80" fill="#4a4a4a"/>
<rect x="211.70" y="325.90" width="5.80" height="5.80" fill="#4a4a4a"/>
<rect x="241.20" y="328.84" width="5.80" height="5.80" fill="#4a4a4a"/>
<rect x="270.70" y="354.67" width="5.80" height="5.80" fill="#4a4a4a"/>
<rect x="300.20" y="377.14" width="5.80" height="5.80" fill="#4a4a4a"/>
<rect x="329.70" y="435.94" width="5.80" height="5.80" fill="#4a4a4a"/>
<rect x="359.20" y="486.13" width="5.80" height="5.80" fill="#4a4a4a"/>
<polyline points="96.60,322.50 126.10,325.65 155.60,333.42 185.10,339.72 214.60,351.48 244.10,365.13 273.60,389.91 303.10,413.64 332.60,465.30 362.10,494.70" fill="none" stroke="#f04040" stroke-width="1.3" stroke-linejoin="round"/>
<circle cx="96.60" cy="322.50" r="3.50" fill="#f04040"/>
<circle cx="126.10" cy="325.65" r="3.50" fill="#f04040"/>
<circle cx="155.60" cy="333.42" r="3.50" fill="#f04040"/>
<circle cx="185.10" cy="339.72" r="3.50" fill="#f04040"/>
<circle cx="214.60" cy="351.48" r="3.50" fill="#f04040"/>
<circle cx="244.10" cy="365.13" r="3.50" fill="#f04040"/>
<circle cx="273.60" cy="389.91" r="3.50" fill="#f04040"/>
<circle cx="303.10" cy="413.64" r="3.50" fill="#f04040"/>
<circle cx="332.60" cy="465.30" r="3.50" fill="#f04040"/>
<circle cx="362.10" cy="494.70" r="3.50" fill="#f04040"/>
<polyline points="96.60,322.50 126.10,329.22 155.60,334.47 185.10,338.46 214.60,346.86 244.10,364.50 273.60,381.72 303.10,430.65 320.80,478.95" fill="none" stroke="#2070e0" stroke-width="1.3" stroke-linejoin="round"/>
<polygon points="96.60,318.04 100.60,325.24 92.60,325.24" fill="#2070e0" stroke="none" stroke-width="0"/>
<polygon points="126.10,324.76 130.10,331.96 122.10,331.96" fill="#2070e0" stroke="none" stroke-width="0"/>
<polygon points="155.60,330.01 159.60,337.21 151.60,337.21" fill="#2070e0" stroke="none" stroke-width="0"/>
<polygon points="185.10,334.00 189.10,341.20 181.10,341.20" fill="#2070e0" stroke="none" stroke-width="0"/>
<polygon points="214.60,342.40 218.60,349.60 210.60,349.60" fill="#2070e0" stroke="none" stroke-width="0"/>
<polygon points="244.10,360.04 248.10,367.24 240.10,367.24" fill="#2070e0" stroke="none" stroke-width="0"/>
<polygon points="273.60,377.26 277.60,384.46 269.60,384.46" fill="#2070e0" stroke="none" stroke-width="0"/>
<polygon points="303.10,426.19 307.10,433.39 299.10,433.39" fill="#2070e0" stroke="none" stroke-width="0"/>
<polygon points="320.80,474.49 324.80,481.69 316.80,481.69" fill="#2070e0" stroke="none" stroke-width="0"/>
<polyline points="96.60,322.50 126.10,330.27 155.60,340.77 185.10,350.64 214.60,365.13 244.10,383.40 273.60,413.64 303.10,445.77 320.80,500.58" fill="none" stroke="#30a060" stroke-width="1.3" stroke-linejoin="round"/>
<polygon points="96.60,326.96 100.60,319.76 92.60,319.76" fill="#30a060" stroke="none" stroke-width="0"/>
<polygon points="126.10,334.73 130.10,327.53 122.10,327.53" fill="#30a060" stroke="none" stroke-width="0"/>
<polygon points="155.60,345.23 159.60,338.03 151.60,338.03" fill="#30a060" stroke="none" stroke-width="0"/>
<polygon points="185.10,355.10 189.10,347.90 181.10,347.90" fill="#30a060" stroke="none" stroke-width="0"/>
<polygon points="214.60,369.59 218.60,362.39 210.60,362.39" fill="#30a060" stroke="none" stroke-width="0"/>
<polygon points="244.10,387.86 248.10,380.66 240.10,380.66" fill="#30a060" stroke="none" stroke-width="0"/>
<polygon points="273.60,418.10 277.60,410.90 269.60,410.90" fill="#30a060" stroke="none" stroke-width="0"/>
<polygon points="303.10,450.23 307.10,443.03 299.10,443.03" fill="#30a060" stroke="none" stroke-width="0"/>
<polygon points="320.80,505.04 324.80,497.84 316.80,497.84" fill="#30a060" stroke="none" stroke-width="0"/>
<polyline points="96.60,322.50 126.10,340.98 155.60,354.42 185.10,359.25 214.60,367.86 244.10,371.01 273.60,404.61 303.10,456.69" fill="none" stroke="#b070e0" stroke-width="1.3" stroke-linejoin="round"/>
<polygon points="96.60,317.79 100.78,322.50 96.60,327.21 92.42,322.50" fill="#b070e0" stroke="none" stroke-width="0"/>
<polygon points="126.10,336.27 130.28,340.98 126.10,345.69 121.92,340.98" fill="#b070e0" stroke="none" stroke-width="0"/>
<polygon points="155.60,349.71 159.78,354.42 155.60,359.13 151.42,354.42" fill="#b070e0" stroke="none" stroke-width="0"/>
<polygon points="185.10,354.54 189.28,359.25 185.10,363.96 180.92,359.25" fill="#b070e0" stroke="none" stroke-width="0"/>
<polygon points="214.60,363.15 218.78,367.86 214.60,372.57 210.42,367.86" fill="#b070e0" stroke="none" stroke-width="0"/>
<polygon points="244.10,366.30 248.28,371.01 244.10,375.72 239.92,371.01" fill="#b070e0" stroke="none" stroke-width="0"/>
<polygon points="273.60,399.90 277.78,404.61 273.60,409.32 269.42,404.61" fill="#b070e0" stroke="none" stroke-width="0"/>
<polygon points="303.10,451.98 307.28,456.69 303.10,461.40 298.92,456.69" fill="#b070e0" stroke="none" stroke-width="0"/>
<polyline points="96.60,322.50 126.10,357.15 155.60,376.68 185.10,397.26 214.60,424.77 244.10,438.84 273.60,457.95 303.10,484.20" fill="none" stroke="#d09010" stroke-width="1.3" stroke-linejoin="round"/>
<polygon points="92.14,322.50 99.34,318.50 99.34,326.50" fill="#d09010" stroke="none" stroke-width="0"/>
<polygon points="121.64,357.15 128.84,353.15 128.84,361.15" fill="#d09010" stroke="none" stroke-width="0"/>
<polygon points="151.14,376.68 158.34,372.68 158.34,380.68" fill="#d09010" stroke="none" stroke-width="0"/>
<polygon points="180.64,397.26 187.84,393.26 187.84,401.26" fill="#d09010" stroke="none" stroke-width="0"/>
<polygon points="210.14,424.77 217.34,420.77 217.34,428.77" fill="#d09010" stroke="none" stroke-width="0"/>
<polygon points="239.64,438.84 246.84,434.84 246.84,442.84" fill="#d09010" stroke="none" stroke-width="0"/>
<polygon points="269.14,457.95 276.34,453.95 276.34,461.95" fill="#d09010" stroke="none" stroke-width="0"/>
<polygon points="298.64,484.20 305.84,480.20 305.84,488.20" fill="#d09010" stroke="none" stroke-width="0"/>
<polyline points="96.60,322.50 185.10,352.95 244.10,373.32 303.10,433.80" fill="none" stroke="#20c8c8" stroke-width="1.3" stroke-dasharray="4 5.4" stroke-linejoin="round"/>
<polygon points="100.51,322.50 94.21,319.00 94.21,326.00" fill="white" stroke="#20c8c8" stroke-width="0.9"/><circle cx="96.60" cy="322.50" r="0.4" fill="#20c8c8"/>
<polygon points="189.01,352.95 182.71,349.45 182.71,356.45" fill="white" stroke="#20c8c8" stroke-width="0.9"/><circle cx="185.10" cy="352.95" r="0.4" fill="#20c8c8"/>
<polygon points="248.01,373.32 241.71,369.82 241.71,376.82" fill="white" stroke="#20c8c8" stroke-width="0.9"/><circle cx="244.10" cy="373.32" r="0.4" fill="#20c8c8"/>
<polygon points="307.01,433.80 300.71,430.30 300.71,437.30" fill="white" stroke="#20c8c8" stroke-width="0.9"/><circle cx="303.10" cy="433.80" r="0.4" fill="#20c8c8"/>
<polyline points="96.60,322.50 185.10,368.28 244.10,394.32 303.10,451.86" fill="none" stroke="#8a6a80" stroke-width="1.3" stroke-dasharray="4 5.4" stroke-linejoin="round"/>
<polygon points="96.60,326.00 93.57,324.25 93.57,320.75 96.60,319.00 99.63,320.75 99.63,324.25" fill="white" stroke="#8a6a80" stroke-width="0.9"/><circle cx="96.60" cy="322.50" r="0.4" fill="#8a6a80"/>
<polygon points="185.10,371.78 182.07,370.03 182.07,366.53 185.10,364.78 188.13,366.53 188.13,370.03" fill="white" stroke="#8a6a80" stroke-width="0.9"/><circle cx="185.10" cy="368.28" r="0.4" fill="#8a6a80"/>
<polygon points="244.10,397.82 241.07,396.07 241.07,392.57 244.10,390.82 247.13,392.57 247.13,396.07" fill="white" stroke="#8a6a80" stroke-width="0.9"/><circle cx="244.10" cy="394.32" r="0.4" fill="#8a6a80"/>
<polygon points="303.10,455.36 300.07,453.61 300.07,450.11 303.10,448.36 306.13,450.11 306.13,453.61" fill="white" stroke="#8a6a80" stroke-width="0.9"/><circle cx="303.10" cy="451.86" r="0.4" fill="#8a6a80"/>
<polyline points="96.60,322.50 185.10,384.45 244.10,420.36 303.10,472.65" fill="none" stroke="#a0a040" stroke-width="1.3" stroke-dasharray="4 5.4" stroke-linejoin="round"/>
<polygon points="96.60,318.75 97.59,321.13 100.17,321.34 98.20,323.02 98.80,325.53 96.60,324.19 94.40,325.53 95.00,323.02 93.03,321.34 95.61,321.13" fill="white" stroke="#a0a040" stroke-width="0.9"/>
<polygon points="185.10,380.70 186.09,383.08 188.67,383.29 186.70,384.97 187.30,387.48 185.10,386.14 182.90,387.48 183.50,384.97 181.53,383.29 184.11,383.08" fill="white" stroke="#a0a040" stroke-width="0.9"/>
<polygon points="244.10,416.61 245.09,418.99 247.67,419.20 245.70,420.88 246.30,423.39 244.10,422.05 241.90,423.39 242.50,420.88 240.53,419.20 243.11,418.99" fill="white" stroke="#a0a040" stroke-width="0.9"/>
<polygon points="303.10,468.90 304.09,471.28 306.67,471.49 304.70,473.17 305.30,475.68 303.10,474.34 300.90,475.68 301.50,473.17 299.53,471.49 302.11,471.28" fill="white" stroke="#a0a040" stroke-width="0.9"/>
<polyline points="96.60,322.50 185.10,380.04 244.10,407.97 303.10,463.20" fill="none" stroke="#ff7f50" stroke-width="1.3" stroke-dasharray="4 5.4" stroke-linejoin="round"/>
<polygon points="96.60,319.00 99.93,321.42 98.66,325.33 94.54,325.33 93.27,321.42" fill="white" stroke="#ff7f50" stroke-width="0.9"/><circle cx="96.60" cy="322.50" r="0.4" fill="#ff7f50"/>
<polygon points="185.10,376.54 188.43,378.96 187.16,382.87 183.04,382.87 181.77,378.96" fill="white" stroke="#ff7f50" stroke-width="0.9"/><circle cx="185.10" cy="380.04" r="0.4" fill="#ff7f50"/>
<polygon points="244.10,404.47 247.43,406.89 246.16,410.80 242.04,410.80 240.77,406.89" fill="white" stroke="#ff7f50" stroke-width="0.9"/><circle cx="244.10" cy="407.97" r="0.4" fill="#ff7f50"/>
<polygon points="303.10,459.70 306.43,462.12 305.16,466.03 301.04,466.03 299.77,462.12" fill="white" stroke="#ff7f50" stroke-width="0.9"/><circle cx="303.10" cy="463.20" r="0.4" fill="#ff7f50"/>
<polyline points="96.60,322.50 185.10,396.00 244.10,439.47 303.10,475.80" fill="none" stroke="#3030b0" stroke-width="1.3" stroke-dasharray="4 5.4" stroke-linejoin="round"/>
<circle cx="96.60" cy="322.50" r="3.50" fill="white" stroke="#3030b0" stroke-width="0.9"/><circle cx="96.60" cy="322.50" r="0.4" fill="#3030b0"/>
<circle cx="185.10" cy="396.00" r="3.50" fill="white" stroke="#3030b0" stroke-width="0.9"/><circle cx="185.10" cy="396.00" r="0.4" fill="#3030b0"/>
<circle cx="244.10" cy="439.47" r="3.50" fill="white" stroke="#3030b0" stroke-width="0.9"/><circle cx="244.10" cy="439.47" r="0.4" fill="#3030b0"/>
<circle cx="303.10" cy="475.80" r="3.50" fill="white" stroke="#3030b0" stroke-width="0.9"/><circle cx="303.10" cy="475.80" r="0.4" fill="#3030b0"/>
<text x="99.80" y="435.60" font-size="9.6" text-anchor="start" fill="#000">With</text>
<text x="99.80" y="446.80" font-size="9.6" text-anchor="start" fill="#000">seed layer</text>
<line x1="96.6" y1="458.80" x2="118.6" y2="458.80" stroke="#4a4a4a" stroke-width="1.3"/>
<rect x="104.90" y="455.90" width="5.80" height="5.80" fill="#4a4a4a"/>
<text x="120.60" y="462.10" font-size="9.6" text-anchor="start" fill="#000">550ºC</text>
<line x1="96.6" y1="469.00" x2="118.6" y2="469.00" stroke="#f04040" stroke-width="1.3"/>
<circle cx="107.80" cy="469.00" r="3.50" fill="#f04040"/>
<text x="120.60" y="472.30" font-size="9.6" text-anchor="start" fill="#000">600ºC</text>
<line x1="96.6" y1="479.70" x2="118.6" y2="479.70" stroke="#2070e0" stroke-width="1.3"/>
<polygon points="107.80,475.24 111.80,482.44 103.80,482.44" fill="#2070e0" stroke="none" stroke-width="0"/>
<text x="120.60" y="483.00" font-size="9.6" text-anchor="start" fill="#000">650ºC</text>
<line x1="96.6" y1="489.90" x2="118.6" y2="489.90" stroke="#30a060" stroke-width="1.3"/>
<polygon points="107.80,494.36 111.80,487.16 103.80,487.16" fill="#30a060" stroke="none" stroke-width="0"/>
<text x="120.60" y="493.20" font-size="9.6" text-anchor="start" fill="#000">700ºC</text>
<line x1="96.6" y1="500.60" x2="118.6" y2="500.60" stroke="#b070e0" stroke-width="1.3"/>
<polygon points="107.80,495.89 111.98,500.60 107.80,505.31 103.62,500.60" fill="#b070e0" stroke="none" stroke-width="0"/>
<text x="120.60" y="503.90" font-size="9.6" text-anchor="start" fill="#000">750ºC</text>
<line x1="96.6" y1="510.80" x2="118.6" y2="510.80" stroke="#d09010" stroke-width="1.3"/>
<polygon points="103.34,510.80 110.54,506.80 110.54,514.80" fill="#d09010" stroke="none" stroke-width="0"/>
<text x="120.60" y="514.10" font-size="9.6" text-anchor="start" fill="#000">800ºC</text>
<text x="163.90" y="455.90" font-size="9.6" text-anchor="start" fill="#000">Without</text>
<text x="163.90" y="467.60" font-size="9.6" text-anchor="start" fill="#000">seed layer</text>
<line x1="158.6" y1="479.20" x2="162.4" y2="479.20" stroke="#20c8c8" stroke-width="1.3"/>
<line x1="178.0" y1="479.20" x2="181.0" y2="479.20" stroke="#20c8c8" stroke-width="1.3"/>
<polygon points="173.71,479.20 167.41,475.70 167.41,482.70" fill="white" stroke="#20c8c8" stroke-width="0.9"/><circle cx="169.80" cy="479.20" r="0.4" fill="#20c8c8"/>
<text x="182.70" y="482.50" font-size="9.6" text-anchor="start" fill="#000">650ºC</text>
<line x1="158.6" y1="489.90" x2="162.4" y2="489.90" stroke="#8a6a80" stroke-width="1.3"/>
<line x1="178.0" y1="489.90" x2="181.0" y2="489.90" stroke="#8a6a80" stroke-width="1.3"/>
<polygon points="169.80,493.40 166.77,491.65 166.77,488.15 169.80,486.40 172.83,488.15 172.83,491.65" fill="white" stroke="#8a6a80" stroke-width="0.9"/><circle cx="169.80" cy="489.90" r="0.4" fill="#8a6a80"/>
<text x="182.70" y="493.20" font-size="9.6" text-anchor="start" fill="#000">700ºC</text>
<line x1="158.6" y1="500.50" x2="162.4" y2="500.50" stroke="#a0a040" stroke-width="1.3"/>
<line x1="178.0" y1="500.50" x2="181.0" y2="500.50" stroke="#a0a040" stroke-width="1.3"/>
<polygon points="169.80,496.75 170.79,499.13 173.37,499.34 171.40,501.02 172.00,503.53 169.80,502.19 167.60,503.53 168.20,501.02 166.23,499.34 168.81,499.13" fill="white" stroke="#a0a040" stroke-width="0.9"/>
<text x="182.70" y="503.80" font-size="9.6" text-anchor="start" fill="#000">750ºC</text>
<line x1="158.6" y1="511.00" x2="162.4" y2="511.00" stroke="#ff7f50" stroke-width="1.3"/>
<line x1="178.0" y1="511.00" x2="181.0" y2="511.00" stroke="#ff7f50" stroke-width="1.3"/>
<polygon points="169.80,507.50 173.13,509.92 171.86,513.83 167.74,513.83 166.47,509.92" fill="white" stroke="#ff7f50" stroke-width="0.9"/><circle cx="169.80" cy="511.00" r="0.4" fill="#ff7f50"/>
<text x="182.70" y="514.30" font-size="9.6" text-anchor="start" fill="#000">800ºC</text>
<line x1="158.6" y1="521.40" x2="162.4" y2="521.40" stroke="#3030b0" stroke-width="1.3"/>
<line x1="178.0" y1="521.40" x2="181.0" y2="521.40" stroke="#3030b0" stroke-width="1.3"/>
<circle cx="169.80" cy="521.40" r="3.50" fill="white" stroke="#3030b0" stroke-width="0.9"/><circle cx="169.80" cy="521.40" r="0.4" fill="#3030b0"/>
<text x="182.70" y="524.70" font-size="9.6" text-anchor="start" fill="#000">825ºC</text></svg>
</body></html>
